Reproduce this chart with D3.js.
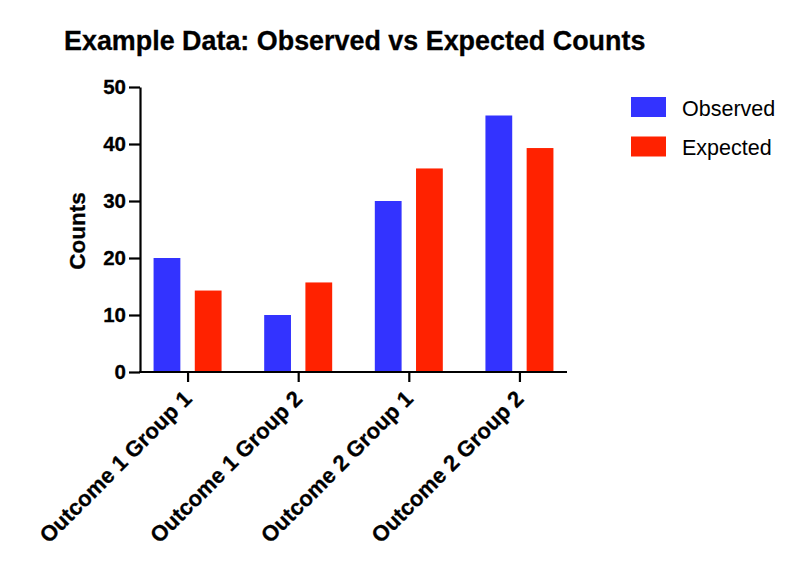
<!DOCTYPE html>
<html>
<head>
<meta charset="utf-8">
<script src="https://cdn.jsdelivr.net/npm/d3@7"></script>
<style>
  html, body { margin: 0; padding: 0; background: #fff; }
  svg { display: block; }
  text { font-family: "Liberation Sans", Arial, Helvetica, sans-serif; }
</style>
</head>
<body>
<svg id="chart" width="800" height="562"></svg>
<script>
const categories = ["Outcome 1 Group 1", "Outcome 1 Group 2", "Outcome 2 Group 1", "Outcome 2 Group 2"];
const seriesNames = ["Observed", "Expected"];
const observed = [20, 10, 30, 45];
const expected = [14.29, 15.71, 35.71, 39.29];
const yTicks = [0, 10, 20, 30, 40, 50];
const colors = ["#3333FF", "#FF2200"];

const svg = d3.select("#chart");
const plotLeft = 140, plotRight = 567, plotTop = 87, plotBottom = 372;

const y = d3.scaleLinear().domain([0, 50]).range([plotBottom, plotTop]);
const x0 = d3.scalePoint().domain(categories).range([plotLeft, plotRight]).padding(0.43);
const x1 = d3.scaleBand().domain(seriesNames).range([-34, 34]).paddingInner(0.35);
const color = d3.scaleOrdinal().domain(seriesNames).range(colors);

const values = { "Observed": observed, "Expected": expected };
const rows = [];
categories.forEach((c, i) => seriesNames.forEach(s => rows.push({ c, s, v: values[s][i] })));

// Title
svg.append("text")
  .attr("x", 64).attr("y", 50)
  .attr("font-size", 26.9).attr("font-weight", "bold")
  .attr("fill", "#000").attr("stroke", "#000").attr("stroke-width", 0.3)
  .text("Example Data: Observed vs Expected Counts");

// Bars
svg.append("g").selectAll("rect").data(rows).join("rect")
  .attr("x", d => x0(d.c) + x1(d.s))
  .attr("width", x1.bandwidth())
  .attr("y", d => y(d.v))
  .attr("height", d => y(0) - y(d.v))
  .attr("fill", d => color(d.s));

// Y axis
const yAxis = svg.append("g")
  .attr("transform", `translate(${plotLeft},0)`)
  .call(d3.axisLeft(y).tickValues(yTicks).tickSize(11).tickPadding(3).tickSizeOuter(0));
yAxis.select(".domain").attr("stroke", "#000").attr("stroke-width", 2.2);
yAxis.selectAll(".tick line").attr("stroke", "#000").attr("stroke-width", 2.2);
yAxis.selectAll(".tick text")
  .attr("font-size", 20.5).attr("font-weight", "bold").attr("fill", "#000")
  .attr("stroke", "#000").attr("stroke-width", 0.3)
  .attr("font-family", "'Liberation Sans', Arial, sans-serif");

// X axis
const xAxis = svg.append("g")
  .attr("transform", `translate(0,${plotBottom})`)
  .call(d3.axisBottom(x0).tickSize(10).tickSizeOuter(0));
xAxis.select(".domain").attr("stroke", "#000").attr("stroke-width", 2.2)
  .attr("d", `M${plotLeft - 1},0H${plotRight}`);
xAxis.selectAll(".tick line").attr("stroke", "#000").attr("stroke-width", 2.2);
xAxis.selectAll(".tick text")
  .attr("font-size", 22).attr("font-weight", "bold").attr("fill", "#000")
  .attr("stroke", "#000").attr("stroke-width", 0.3)
  .attr("font-family", "'Liberation Sans', Arial, sans-serif")
  .attr("text-anchor", "end")
  .attr("dy", null)
  .attr("y", 0)
  .attr("transform", "translate(5,28) rotate(-45)");

// Y label
svg.append("text")
  .attr("transform", "translate(85,231) rotate(-90)")
  .attr("text-anchor", "middle")
  .attr("font-size", 22.5).attr("font-weight", "bold").attr("fill", "#000")
  .attr("stroke", "#000").attr("stroke-width", 0.3)
  .text("Counts");

// Legend
const legend = svg.append("g").selectAll("g").data(seriesNames).join("g")
  .attr("transform", (d, i) => `translate(631,${97 + i * 39.5})`);
legend.append("rect").attr("width", 35).attr("height", 20).attr("fill", d => color(d));
legend.append("text").attr("x", 51).attr("y", 18.5)
  .attr("font-size", 21.5).attr("fill", "#000").text(d => d);
</script>
</body>
</html>
